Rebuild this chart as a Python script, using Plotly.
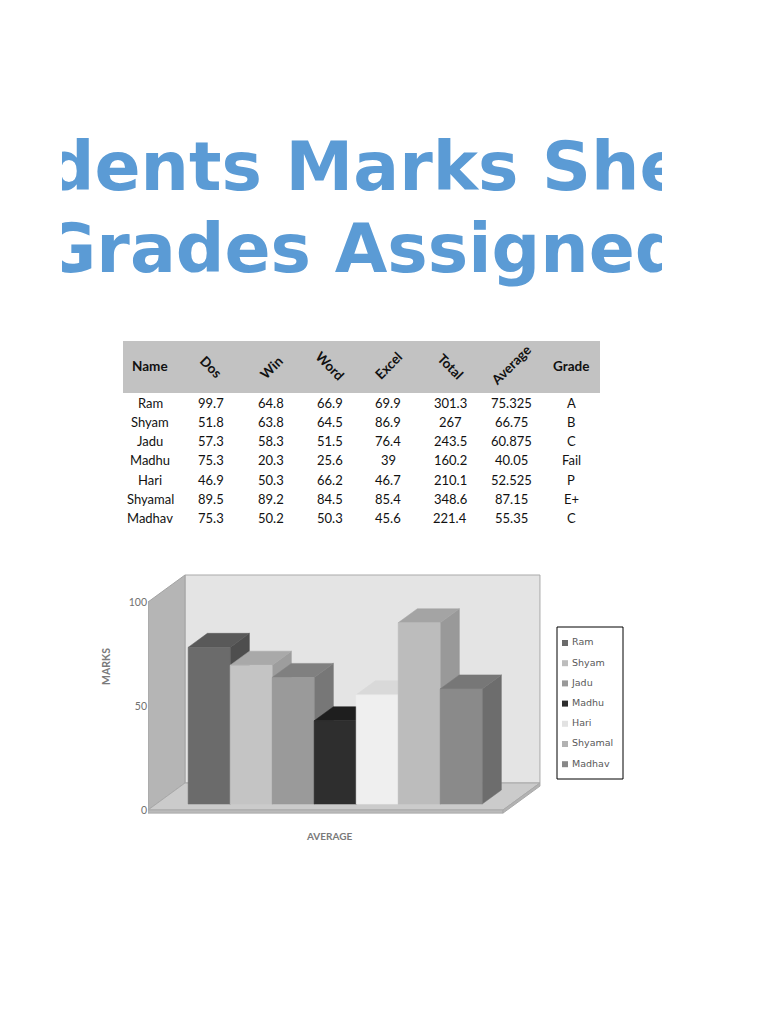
import plotly.graph_objects as go

# table data
names = ["Ram", "Shyam", "Jadu", "Madhu", "Hari", "Shyamal", "Madhav"]
dos = [99.7, 51.8, 57.3, 75.3, 46.9, 89.5, 75.3]
win = [64.8, 63.8, 58.3, 20.3, 50.3, 89.2, 50.2]
word = [66.9, 64.5, 51.5, 25.6, 66.2, 84.5, 50.3]
excel = [69.9, 86.9, 76.4, 39, 46.7, 85.4, 45.6]
total = [301.3, 267, 243.5, 160.2, 210.1, 348.6, 221.4]
average = [75.325, 66.75, 60.875, 40.05, 52.525, 87.15, 55.35]
grade = ["A", "B", "C", "Fail", "P", "E+", "C"]
headers = ["Name", "Dos", "Win", "Word", "Excel", "Total", "Average", "Grade"]
y_ticks = [0, 50, 100]
title_lines = ["Students Marks Sheet", "Grades Assigned"]

# bar colours: front, top, side
front_col = ["#6b6b6b", "#c4c4c4", "#9a9a9a", "#2e2e2e", "#efefef", "#bcbcbc", "#8a8a8a"]
top_col = ["#595959", "#a9a9a9", "#808080", "#1e1e1e", "#d9d9d9", "#a4a4a4", "#777777"]
side_col = ["#4e4e4e", "#9d9d9d", "#777777", "#161616", "#cdcdcd", "#999999", "#6d6d6d"]
legend_col = ["#6b6b6b", "#bdbdbd", "#999999", "#2e2e2e", "#e2e2e2", "#b2b2b2", "#888888"]

W, H = 768, 1024
fig = go.Figure()

# 3d box geometry in front-plane data units
DX, DY = 37 / 42, 27 / 2.08
TF, TB = 0.22, 0.74
XL, XR = -1.262, 7.19
TOP = 100


def face(xs, ys, color, edge=None):
    fig.add_trace(go.Scatter(
        x=xs + [xs[0]], y=ys + [ys[0]], fill="toself", fillcolor=color,
        mode="lines", line=dict(color=edge or color, width=1 if edge else 0.5),
        hoverinfo="skip", showlegend=False, xaxis="x", yaxis="y"))


face([XL + DX, XR + DX, XR + DX, XL + DX], [DY, DY, TOP + DY, TOP + DY], "#e4e4e4", "#a9a9a9")
face([XL, XL + DX, XL + DX, XL], [0, DY, TOP + DY, TOP], "#b5b5b5", "#a3a3a3")
face([XL, XR, XR + DX, XL + DX], [0, 0, DY, DY], "#cbcbcb", "#a9a9a9")
face([XL, XR, XR, XL], [0, 0, -1.5, -1.5], "#bababa", "#a9a9a9")
face([XR, XR + DX, XR + DX, XR], [0, DY, DY - 1.5, -1.5], "#b3b3b3", "#a9a9a9")

for i, v in enumerate(average):
    xl, xr = i - 0.5, i + 0.5
    face([xr + TF * DX, xr + TB * DX, xr + TB * DX, xr + TF * DX],
         [TF * DY, TB * DY, v + TB * DY, v + TF * DY], side_col[i])
    face([xl + TF * DX, xr + TF * DX, xr + TB * DX, xl + TB * DX],
         [v + TF * DY, v + TF * DY, v + TB * DY, v + TB * DY], top_col[i])
    face([xl + TF * DX, xr + TF * DX, xr + TF * DX, xl + TF * DX],
         [TF * DY, TF * DY, v + TF * DY, v + TF * DY], front_col[i])

# legend (page pixel axis)
leg_y = [643 + 20.2 * i for i in range(len(names))]
fig.add_trace(go.Scatter(
    x=[565] * len(names), y=leg_y, mode="markers",
    marker=dict(symbol="square", size=6, color=legend_col, line=dict(width=0)),
    hoverinfo="skip", showlegend=False, xaxis="x2", yaxis="y2"))
fig.add_trace(go.Scatter(
    x=[572] * len(names), y=leg_y, mode="text", text=names, textposition="middle right",
    textfont=dict(family="DejaVu Sans", size=9.5, color="#595959"),
    hoverinfo="skip", showlegend=False, xaxis="x2", yaxis="y2", cliponaxis=False))

# clipped title
fig.add_trace(go.Scatter(
    x=[340, 362], y=[173, 255], mode="text", text=title_lines, textposition="middle center",
    textfont=dict(family="DejaVu Sans", size=68, color="#5b9bd5", weight="bold"),
    hoverinfo="skip", showlegend=False, xaxis="x3", yaxis="y3", cliponaxis=True))

shapes = [
    dict(type="rect", xref="x2", yref="y2", x0=123, x1=600, y0=341, y1=393,
         fillcolor="#c2c2c2", line=dict(width=0), layer="below"),
    dict(type="rect", xref="x2", yref="y2", x0=557, x1=623, y0=627, y1=779,
         fillcolor="rgba(0,0,0,0)", line=dict(color="#000000", width=1)),
]

annotations = []
col_x = [150, 211, 271, 330, 388, 450, 511, 571]
head_angle = [0, 45, -45, 45, -45, 45, -45, 0]
head_y = [366, 367, 368, 366, 366, 366, 365, 366]
for cx, h, a, hy in zip(col_x, headers, head_angle, head_y):
    annotations.append(dict(x=cx, y=hy, xref="x2", yref="y2", text=h, showarrow=False,
                            textangle=a, font=dict(family="Lato", size=13.5, color="#111111",
                                                   weight="bold")))

columns = [names, dos, win, word, excel, total, average, grade]
for c, (cx, col) in enumerate(zip(col_x, columns)):
    for r, val in enumerate(col):
        txt = val if isinstance(val, str) else f"{val:g}"
        annotations.append(dict(x=cx, y=402.5 + 19.3 * r, xref="x2", yref="y2", text=txt,
                                showarrow=False,
                                font=dict(family="Lato", size=13, color="#111111")))

annotations.append(dict(x=106, y=667, xref="x2", yref="y2", text="MARKS", showarrow=False,
                        textangle=-90, font=dict(family="Lato", size=10.5, color="#7a7a7a",
                                                 weight="bold")))
annotations.append(dict(x=329, y=836, xref="x2", yref="y2", text="AVERAGE", showarrow=False,
                        font=dict(family="Lato", size=10, color="#7a7a7a", weight="bold")))

ax_off = dict(visible=False, showgrid=False, zeroline=False)
fig.update_layout(
    width=W, height=H, autosize=False,
    margin=dict(l=0, r=0, t=0, b=0),
    paper_bgcolor="white", plot_bgcolor="rgba(0,0,0,0)",
    showlegend=False,
    xaxis=dict(domain=[148 / W, 560 / W], range=[-1.262, 8.548], **ax_off),
    yaxis=dict(domain=[1 - 830 / H, 1 - 560 / H], range=[-9.615, 120.19], anchor="x",
               tickvals=y_ticks, showgrid=False, zeroline=False, showline=False, ticks="",
               tickfont=dict(family="Lato", size=10.5, color="#707070")),
    xaxis2=dict(domain=[0, 1], range=[0, W], anchor="y2", **ax_off),
    yaxis2=dict(domain=[0, 1], range=[H, 0], anchor="x2", **ax_off),
    xaxis3=dict(domain=[62 / W, 662 / W], range=[62, 662], anchor="y3", **ax_off),
    yaxis3=dict(domain=[1 - 310 / H, 1 - 110 / H], range=[310, 110], anchor="x3", **ax_off),
    shapes=shapes,
    annotations=annotations,
)

fig.write_html("out.html", config={"displayModeBar": False},
               post_script="document.body.style.margin='0px';")
